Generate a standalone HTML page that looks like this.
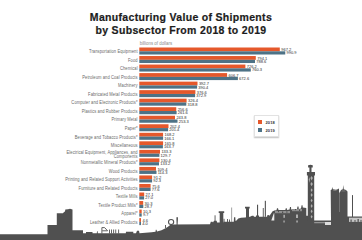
<!DOCTYPE html>
<html><head><meta charset="utf-8"><style>
html,body{margin:0;padding:0;background:#fff;width:362px;height:240px;overflow:hidden;position:relative}
body{font-family:"Liberation Sans",sans-serif}
.t{position:absolute;left:0;width:362px;text-align:center;font-weight:bold;color:#1c1c1c;white-space:nowrap;font-size:10px;line-height:10px;-webkit-text-stroke:0.2px #1c1c1c}
.sub{position:absolute;left:139.7px;top:41.7px;font-size:4.4px;line-height:4.4px;color:#8a8a8a;white-space:nowrap;transform:scaleY(1.1);transform-origin:0 50%}
.b{position:absolute;left:139.3px;height:3.8px}
.o{background:#e5582b}
.u{background:#4d7286}
.v{position:absolute;font-size:4px;line-height:4px;color:#2b2b2b;white-space:nowrap;transform:translateY(-50%)}
.l{position:absolute;right:224.40px;font-size:4.1px;line-height:4.2px;color:#6a6a6a;text-align:right;white-space:nowrap;letter-spacing:0.07px;transform:translateY(-50%) scaleY(1.15);transform-origin:100% 50%}
.leg{position:absolute;left:253.5px;top:115px;width:25.6px;height:21.8px;background:#fff;border:0.5px solid #e2e2e2;box-sizing:border-box;box-shadow:0 0.6px 1.2px rgba(0,0,0,0.25)}
.sq{position:absolute;width:4.2px;height:4.6px}
.lt{position:absolute;font-size:4px;line-height:4px;color:#333;font-weight:bold;letter-spacing:0.1px}
svg{position:absolute;left:0;top:0}
</style></head><body>
<div class="t" style="top:13.2px;letter-spacing:0.3px;transform:scaleX(1.05);transform-origin:181.5px 0">Manufacturing Value of Shipments</div>
<div class="t" style="top:26.2px;letter-spacing:0.32px;transform:scaleX(1.05);transform-origin:181.9px 0">by Subsector From 2018 to 2019</div>
<div class="sub">billions of dollars</div>
<svg width="362" height="240" style="position:absolute;left:0;top:0"><rect x="139.3" y="47.50" width="140.50" height="3.8" fill="#e5582b"/><rect x="139.3" y="51.30" width="145.95" height="3.2" fill="#4d7286"/><rect x="139.3" y="56.03" width="116.50" height="3.8" fill="#e5582b"/><rect x="139.3" y="59.83" width="115.70" height="3.2" fill="#4d7286"/><rect x="139.3" y="64.56" width="106.10" height="3.8" fill="#e5582b"/><rect x="139.3" y="68.36" width="111.50" height="3.2" fill="#4d7286"/><rect x="139.3" y="73.09" width="87.80" height="3.8" fill="#e5582b"/><rect x="139.3" y="76.89" width="98.60" height="3.2" fill="#4d7286"/><rect x="139.3" y="81.62" width="58.20" height="3.8" fill="#e5582b"/><rect x="139.3" y="85.42" width="57.80" height="3.2" fill="#4d7286"/><rect x="139.3" y="90.15" width="56.10" height="3.8" fill="#e5582b"/><rect x="139.3" y="93.95" width="55.80" height="3.2" fill="#4d7286"/><rect x="139.3" y="98.68" width="47.30" height="3.8" fill="#e5582b"/><rect x="139.3" y="102.48" width="47.00" height="3.2" fill="#4d7286"/><rect x="139.3" y="107.21" width="36.95" height="3.8" fill="#e5582b"/><rect x="139.3" y="111.01" width="37.30" height="3.2" fill="#4d7286"/><rect x="139.3" y="115.74" width="35.70" height="3.8" fill="#e5582b"/><rect x="139.3" y="119.54" width="38.20" height="3.2" fill="#4d7286"/><rect x="139.3" y="124.27" width="29.20" height="3.8" fill="#e5582b"/><rect x="139.3" y="128.07" width="28.80" height="3.2" fill="#4d7286"/><rect x="139.3" y="132.80" width="23.80" height="3.8" fill="#e5582b"/><rect x="139.3" y="136.60" width="23.80" height="3.2" fill="#4d7286"/><rect x="139.3" y="141.33" width="23.80" height="3.8" fill="#e5582b"/><rect x="139.3" y="145.13" width="23.60" height="3.2" fill="#4d7286"/><rect x="139.3" y="149.86" width="20.70" height="3.8" fill="#e5582b"/><rect x="139.3" y="153.66" width="20.10" height="3.2" fill="#4d7286"/><rect x="139.3" y="158.39" width="20.10" height="3.8" fill="#e5582b"/><rect x="139.3" y="162.19" width="19.70" height="3.2" fill="#4d7286"/><rect x="139.3" y="166.92" width="16.70" height="3.8" fill="#e5582b"/><rect x="139.3" y="170.72" width="17.20" height="3.2" fill="#4d7286"/><rect x="139.3" y="175.45" width="12.80" height="3.8" fill="#e5582b"/><rect x="139.3" y="179.25" width="12.80" height="3.2" fill="#4d7286"/><rect x="139.3" y="183.98" width="11.30" height="3.8" fill="#e5582b"/><rect x="139.3" y="187.78" width="11.30" height="3.2" fill="#4d7286"/><rect x="139.3" y="192.51" width="4.90" height="3.8" fill="#e5582b"/><rect x="139.3" y="196.31" width="4.80" height="3.2" fill="#4d7286"/><rect x="139.3" y="201.04" width="3.90" height="3.8" fill="#e5582b"/><rect x="139.3" y="204.84" width="4.00" height="3.2" fill="#4d7286"/><rect x="139.3" y="209.57" width="2.40" height="3.8" fill="#e5582b"/><rect x="139.3" y="213.37" width="2.40" height="3.2" fill="#4d7286"/><rect x="139.3" y="218.10" width="1.70" height="3.8" fill="#e5582b"/><rect x="139.3" y="221.90" width="1.70" height="3.2" fill="#4d7286"/></svg>
<div class="v" style="top:50.10px;left:281.20px">967.2</div><div class="v" style="top:53.40px;left:286.45px">990.9</div><div class="l" style="top:52.20px">Transportation Equipment</div><div class="v" style="top:58.63px;left:257.20px">794.1</div><div class="v" style="top:61.93px;left:256.20px">788.6</div><div class="l" style="top:60.73px">Food</div><div class="v" style="top:67.16px;left:246.80px">726.2</div><div class="v" style="top:70.46px;left:252.00px">760.3</div><div class="l" style="top:69.26px">Chemical</div><div class="v" style="top:75.69px;left:228.50px">606.7</div><div class="v" style="top:78.99px;left:239.10px">672.6</div><div class="l" style="top:77.79px">Petroleum and Coal Products</div><div class="v" style="top:84.22px;left:198.90px">392.7</div><div class="v" style="top:87.52px;left:198.30px">390.4</div><div class="l" style="top:86.32px">Machinery</div><div class="v" style="top:92.75px;left:196.80px">376.6</div><div class="v" style="top:96.05px;left:196.30px">372.9</div><div class="l" style="top:94.85px">Fabricated Metal Products</div><div class="v" style="top:101.28px;left:188.00px">326.4</div><div class="v" style="top:104.58px;left:187.50px">318.8</div><div class="l" style="top:103.38px">Computer and Electronic Products*</div><div class="v" style="top:109.81px;left:177.65px">256.6</div><div class="v" style="top:113.11px;left:177.80px">261.6</div><div class="l" style="top:111.91px">Plastics and Rubber Products</div><div class="v" style="top:118.34px;left:176.40px">243.8</div><div class="v" style="top:121.64px;left:178.70px">253.3</div><div class="l" style="top:120.44px">Primary Metal</div><div class="v" style="top:126.87px;left:169.90px">202.4</div><div class="v" style="top:130.17px;left:169.30px">201.4</div><div class="l" style="top:128.97px">Paper*</div><div class="v" style="top:135.40px;left:164.50px">168.2</div><div class="v" style="top:138.70px;left:164.30px">166.1</div><div class="l" style="top:137.50px">Beverage and Tobacco Products*</div><div class="v" style="top:143.93px;left:164.50px">165.8</div><div class="v" style="top:147.23px;left:164.10px">163.7</div><div class="l" style="top:146.03px">Miscellaneous</div><div class="v" style="top:152.46px;left:161.40px">133.3</div><div class="v" style="top:155.76px;left:160.60px">129.7</div><div class="l" style="top:154.56px">Electrical Equipment, Appliances, and<br>Components</div><div class="v" style="top:160.99px;left:160.80px">130.4</div><div class="v" style="top:164.29px;left:160.20px">133.2</div><div class="l" style="top:163.09px">Nonmetallic Mineral Products*</div><div class="v" style="top:169.52px;left:157.40px">109.4</div><div class="v" style="top:172.82px;left:157.70px">114.3</div><div class="l" style="top:171.62px">Wood Products</div><div class="v" style="top:178.05px;left:153.50px">91.2</div><div class="v" style="top:181.35px;left:153.30px">92.3</div><div class="l" style="top:180.15px">Printing and Related Support Activities</div><div class="v" style="top:186.58px;left:152.00px">75.6</div><div class="v" style="top:189.88px;left:151.80px">77.6</div><div class="l" style="top:188.68px">Furniture and Related Products</div><div class="v" style="top:195.11px;left:145.60px">27.1</div><div class="v" style="top:198.41px;left:145.30px">27.0</div><div class="l" style="top:197.21px">Textile Mills</div><div class="v" style="top:203.64px;left:144.60px">30.3</div><div class="v" style="top:206.94px;left:144.50px">28.7</div><div class="l" style="top:205.74px">Textile Product Mills*</div><div class="v" style="top:212.17px;left:143.10px">10.3</div><div class="v" style="top:215.47px;left:142.90px">9.7</div><div class="l" style="top:214.27px">Apparel*</div><div class="v" style="top:220.70px;left:142.40px">4.6</div><div class="v" style="top:224.00px;left:142.20px">4.0</div><div class="l" style="top:222.80px">Leather & Allied Products</div>
<div class="leg">
<div class="sq" style="left:3.6px;top:3.6px;background:#e5582b"></div>
<div class="lt" style="left:11px;top:5.2px">2018</div>
<div class="sq" style="left:3.6px;top:11.6px;background:#4d7286"></div>
<div class="lt" style="left:11px;top:13.2px">2019</div>
</div>
<svg width="362" height="240" viewBox="0 0 362 240">
<g fill="#505050">
<path d="M0,234.2 L47.5,234.2 L47.5,225 L56.8,225 L56.8,213.2 L63,213.2 L64,212 L65,211.5 L65.3,209.4 L68,209.2 L70,208.8 L72.5,209.4 L72.5,230.3 L83,230.3 L83,233.2 L86,233.2 L86,232 L92.5,232 L92.5,233.2 L96.8,233.2 L97,231.2 L97.7,231.2 L97.8,233.2 L125.8,233.2 L126,231.7 L133.3,231.7 L133.3,233.2 L136,233.2 L137,230.8 L139,230.8 L139.5,233.2 L151.6,232.3 L155.5,231.8 L155.8,229.7 L156.5,229.7 L157,231.5 L161.5,230.2 L165,228.5 L168,226.7 L170.8,224.6 L210,224.2 L210.8,221.8 L212.5,221.8 L213,222.5 L214,220.8 L216.7,220.8 L217,222.5 L219.7,222.5 L223.3,222.5 L223.3,221.7 L233.8,221.7 L234,217.3 L235.3,217.3 L235.5,221 L236.5,220.5 L238.3,218.6 L241,217.8 L245,217.5 L250,216.7 L252,215.8 L253.5,215.8 L254,216.7 L256,216.7 L256,215.5 L259,215.5 L259,216.7 L267,216.7 L267.5,215 L268.5,215 L269.5,215.8 L272.6,211.2 L273.4,211 L274.2,210.5 L276.5,210.2 L277,208.2 L278,208.2 L278.5,210 L285.3,210 L285.8,208.2 L286.8,208.2 L287,210 L289.5,209.5 L290,207 L291,207 L291.2,209.5 L297,209 L297.5,206.4 L298.5,206.4 L298.8,209 L301,208.5 L301.6,205.25 L302.5,205.25 L302.8,207.5 L306.3,208 L306.3,215.7 L308,215.7 L308,220.5 L331,220.5 L330.7,190 L331.8,189.5 L332.2,187 L332.9,189.3 L336,189.7 L338.3,189 L339,188.3 L339.1,192.5 L339.8,192.5 L341,190 L342.8,189.3 L343.2,185 L343.8,189.3 L346,190 L347.5,191.5 L347.5,216.5 L362,216.5 L362,240 L0,240 Z"/>
<!-- chimney 1 -->
<path d="M218.7,211.3 L224.2,211.3 L224.2,213 L223.3,213 L223.3,223 L219.7,223 L219.7,213 L218.7,213 Z"/>
<!-- chimney 2 -->
<path d="M245,206.7 L249.7,206.7 L249.7,208.5 L249,208.5 L249,218 L246,218 L246,208.5 L245,208.5 Z"/>
<!-- poles -->
<rect x="214.6" y="215.3" width="0.9" height="8"/>
<rect x="231.3" y="207.5" width="0.8" height="14.5" fill="#8a8a8a"/>
<rect x="223.6" y="218.8" width="0.9" height="3.2"/><rect x="227" y="219" width="0.9" height="3"/><rect x="229.1" y="219.5" width="0.9" height="2.5"/>
<rect x="257" y="204.7" width="1.1" height="12.5"/>
<rect x="262.8" y="208" width="0.9" height="9"/>
<rect x="264.8" y="200.8" width="1.1" height="16"/>
<rect x="352" y="195.1" width="1" height="22"/>
<!-- tank & tower near 170 -->
<ellipse cx="171.1" cy="222" rx="2.6" ry="2.5" fill="none" stroke="#505050" stroke-width="1.1"/>
<path d="M176.4,217.2 L178,217.2 L177.6,225 L176.6,225 Z"/>
<rect x="165" y="225" width="0.9" height="3"/>
<!-- R structure near 100 -->
<path d="M101.9,233.5 L101.9,227.6 L104.6,227.6 L107.6,230.8 L102.2,230.8" fill="none" stroke="#505050" stroke-width="0.9"/>
<rect x="109" y="229.5" width="0.9" height="4"/><rect x="111.1" y="229.5" width="0.9" height="4"/><rect x="113.2" y="229.5" width="0.9" height="4"/><rect x="115.3" y="229.5" width="0.9" height="4"/><rect x="118.2" y="229.5" width="0.9" height="4"/>
<!-- tower -->
<path d="M308.1,165.3 Q310.4,164.4 312.75,165.3 L312.75,167.5 L311.5,167.5 L311.5,171.9 L315,171.9 L315,175.6 L314.2,175.6 L314.2,221 L307.8,221 L307.8,175.6 L306.9,175.6 L306.9,171.9 L309.4,171.9 L309.4,167.5 L308.1,167.5 Z"/>
</g>
<g fill="#fff" opacity="0.55">
<path d="M311.6,176 L312.8,178 L311.6,180.5 L310.4,178 Z"/><path d="M311.6,182 L312.8,184 L311.6,186.3 L310.4,184 Z"/><path d="M311.6,188.2 L312.6,190 L311.6,192 L310.6,190 Z"/><path d="M311.6,193 L312.6,195 L311.6,197 L310.6,195 Z"/><path d="M311.6,198.7 L312.6,200.5 L311.6,202.3 L310.6,200.5 Z"/><path d="M311.6,204 L312.6,206 L311.6,208 L310.6,206 Z"/><path d="M311.6,209.5 L312.6,211.3 L311.6,213.2 L310.6,211.3 Z"/><path d="M311.6,215 L312.6,216.8 L311.6,218.5 L310.6,216.8 Z"/>
<path d="M309.2,177 L309.9,179.5 L309.2,183 L308.8,179.5 Z"/>
<rect x="283.4" y="214.8" width="1.5" height="3"/><rect x="283.4" y="220.5" width="1.3" height="2"/><rect x="296" y="214.5" width="2" height="3.5" /><rect x="296.3" y="220.5" width="1.5" height="2"/>
<rect x="339.1" y="192" width="0.7" height="20" opacity="0.55"/><rect x="333.3" y="190" width="3.2" height="0.9" opacity="0.5"/><rect x="341.5" y="190.5" width="4" height="0.9" opacity="0.45"/>
</g>
<g fill="#a8a8a8">
<rect x="275" y="211" width="15" height="2.2" fill="#909090"/>
<rect x="292" y="209" width="10" height="2.2" fill="#909090"/>
<g fill="#505050"><rect x="278" y="211" width="1" height="1.2"/><rect x="282" y="211.5" width="1.2" height="1.5"/><rect x="286.5" y="211" width="0.8" height="2"/><rect x="295" y="209" width="1" height="1.2"/><rect x="299" y="209.5" width="1" height="1.5"/></g>
<rect x="314.2" y="222.2" width="16.8" height="1"/>
<rect x="325" y="222" width="6" height="3" fill="#ddd"/>
<rect x="349" y="217.7" width="13" height="4.2" fill="#c4c4c4"/>
<g fill="#505050"><rect x="350.5" y="219.5" width="1.2" height="2.4"/><rect x="354.5" y="220" width="1" height="1.9"/><rect x="357.5" y="219" width="1.3" height="2.9"/><rect x="360.5" y="220" width="1" height="1.9"/></g>
</g>
<path d="M271.3,220.6 L273.4,214.5 L273.8,213.2 L274.3,213.2 L274.3,220.6 Z" fill="#fff" opacity="0.9"/>
</svg>

</body></html>
